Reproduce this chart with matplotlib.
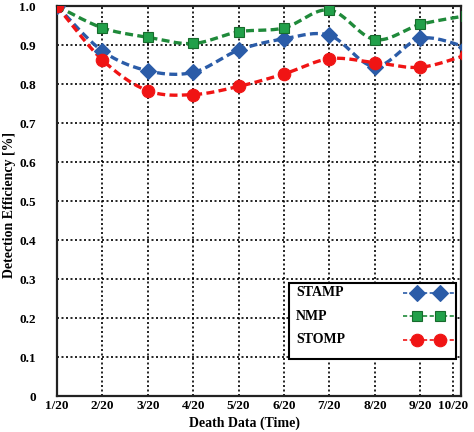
import numpy as np
import matplotlib.pyplot as plt
from matplotlib.patches import Rectangle

months = ['1/20', '2/20', '3/20', '4/20', '5/20', '6/20', '7/20', '8/20', '9/20', '10/20']
stamp = [1.0, 0.885, 0.834, 0.830, 0.887, 0.916, 0.925, 0.845, 0.917, 0.895]
nmp = [1.0, 0.944, 0.920, 0.904, 0.934, 0.944, 0.990, 0.914, 0.953, 0.975]
stomp = [1.0, 0.862, 0.783, 0.773, 0.794, 0.826, 0.865, 0.855, 0.843, 0.874]
y_ticks = [0, 0.1, 0.2, 0.3, 0.4, 0.5, 0.6, 0.7, 0.8, 0.9, 1.0]
y_labels = ['0', '0.1', '0.2', '0.3', '0.4', '0.5', '0.6', '0.7', '0.8', '0.9', '1.0']

plt.rcParams['font.family'] = ['Liberation Serif', 'DejaVu Serif']
plt.rcParams['font.weight'] = 'bold'


def smooth(x, y, n=40):
    # excel-like smoothed line (catmull-rom)
    x = np.asarray(x, float)
    y = np.asarray(y, float)
    xs, ys = [], []
    for i in range(len(x) - 1):
        p0 = max(i - 1, 0)
        p3 = min(i + 2, len(x) - 1)
        mx1 = (x[i + 1] - x[p0]) / 2
        my1 = (y[i + 1] - y[p0]) / 2
        mx2 = (x[p3] - x[i]) / 2
        my2 = (y[p3] - y[i]) / 2
        t = np.linspace(0, 1, n)
        h00 = 2 * t**3 - 3 * t**2 + 1
        h10 = t**3 - 2 * t**2 + t
        h01 = -2 * t**3 + 3 * t**2
        h11 = t**3 - t**2
        xs.append(h00 * x[i] + h10 * mx1 + h01 * x[i + 1] + h11 * mx2)
        ys.append(h00 * y[i] + h10 * my1 + h01 * y[i + 1] + h11 * my2)
    return np.concatenate(xs), np.concatenate(ys)


fig = plt.figure(figsize=(4.74, 4.32), dpi=100)
ax = fig.add_axes([0.120, 0.083, 0.853, 0.903])

x = np.arange(1, len(months) + 1)
series = [
    ('STAMP', stamp, '#2b5ca8', 'D', 8, '#2b5ca8', '#2b5ca8'),
    ('NMP', nmp, '#1f8a3a', 's', 7, '#22a04a', '#176b2c'),
    ('STOMP', stomp, '#f01414', 'o', 9, '#f01414', '#f01414'),
]
for name, vals, col, mk, ms, fc, ec in series:
    sx, sy = smooth(x, vals)
    ax.plot(sx, sy, color=col, lw=2.4, dashes=(2.4, 1.3), zorder=3)
    ax.plot(x, vals, ls='none', marker=mk, ms=ms, mfc=fc, mec=ec, mew=0.8, zorder=4)

ax.set_xlim(1, 9.9)
ax.set_ylim(0, 1.0)
ax.set_xticks(list(x[:-1]) + [9.72])
ax.set_xticklabels(months, fontsize=9.5, fontweight='bold')
ax.xaxis.get_gridlines()[-1].set_visible(False)
ax.set_yticks(y_ticks)
ax.set_yticklabels(y_labels, fontsize=9.5, fontweight='bold')
ax.tick_params(axis='x', length=0, pad=3)
ax.tick_params(axis='y', length=0, pad=15)
ax.grid(True, color='black', linestyle=(0, (1.2, 1.5)), linewidth=1.2)
for s in ax.spines.values():
    s.set_linewidth(1.6)
    s.set_color('#222222')

ax.set_xlabel('Death Data (Time)', fontsize=10, fontweight='bold')
ax.xaxis.set_label_coords(0.463, -0.052)
ax.set_ylabel('Detection Efficiency [%]', fontsize=10, fontweight='bold')
ax.yaxis.set_label_coords(-0.100, 0.49)

# legend box drawn by hand: labels left, samples right
ax.add_patch(Rectangle((0.574, 0.095), 0.414, 0.195, transform=ax.transAxes,
                       facecolor='white', edgecolor='black', lw=1.5, zorder=6))
for k, (name, vals, col, mk, ms, fc, ec) in enumerate(series):
    yy = 0.265 - k * 0.06
    ax.text(0.592, yy, name, transform=ax.transAxes, fontsize=10,
            fontweight='bold', va='center', ha='left', zorder=7)
    ax.plot([0.856, 0.988], [yy, yy], transform=ax.transAxes, color=col,
            lw=1.2, dashes=(2.5, 1.5), zorder=7, clip_on=False)
    ax.plot([0.891, 0.948], [yy, yy], transform=ax.transAxes, ls='none',
            marker=mk, ms=ms, mfc=fc, mec=ec, mew=0.8, zorder=8, clip_on=False)

fig.savefig('out.png', dpi=100)
